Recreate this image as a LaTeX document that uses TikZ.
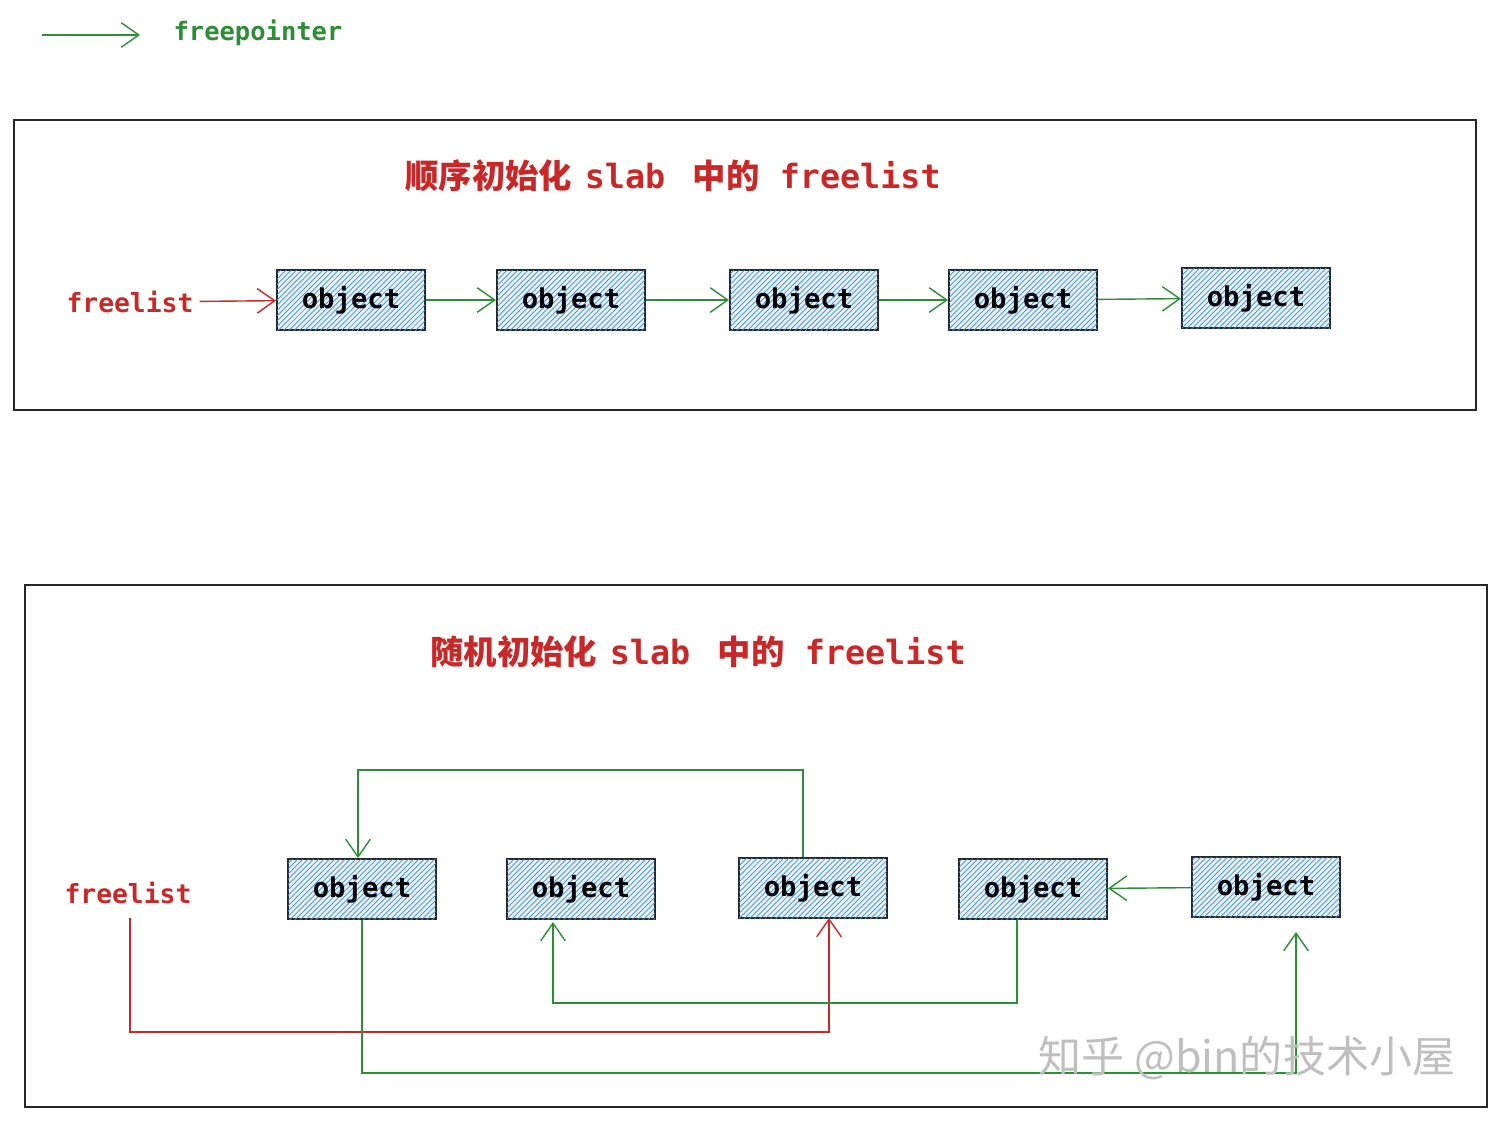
\documentclass[tikz,border=0pt]{standalone}
\usepackage{fontspec}
\setmonofont{DejaVu Sans Mono}
\newfontfamily\cjk{Noto Sans CJK SC}
\usetikzlibrary{patterns,arrows.meta}
\definecolor{gr}{RGB}{47,140,55}
\definecolor{rd}{RGB}{200,40,40}
\definecolor{bl}{RGB}{60,140,220}
\tikzset{
 obj/.style={draw=black!85,line width=1.2pt,minimum width=2.96cm,minimum height=1.2cm,fill=bl!12,postaction={pattern=north east lines,pattern color=bl},font=\ttfamily\bfseries\fontsize{15.5}{16}\selectfont,inner sep=0pt},
 ga/.style={draw=gr,line width=0.8pt,-{Straight Barb[length=10pt,width=14pt]}},
 ra/.style={draw=rd,line width=0.8pt,-{Straight Barb[length=10pt,width=14pt]}},
 frame/.style={draw=black!85,line width=1.1pt},
 ttl/.style={text=rd,font=\bfseries\fontsize{19}{19}\selectfont},
 lbl/.style={text=rd,font=\ttfamily\bfseries\fontsize{15}{15}\selectfont},
}
\begin{document}
\begin{tikzpicture}[x=0.02cm,y=-0.02cm]
\useasboundingbox (0,0) rectangle (1500,1120);
% legend
\coordinate (l1) at (42,35); \coordinate (l2) at (140,35);
\draw[ga] (l1) -- (l2);
\node[text=gr,font=\ttfamily\bfseries\fontsize{14.5}{15}\selectfont] (leg) at (258,33) {freepointer};
% box 1
\draw[frame] (14,120) rectangle (1476,410);
\node[ttl] (t1) at (673,176) {{\cjk 顺序初始化} \ttfamily slab {\cjk\ 中的} \ttfamily freelist};
\node[lbl] (f1) at (130,302) {freelist};
\node[obj] (a1) at (351,300) {object};
\node[obj] (a2) at (571,300) {object};
\node[obj] (a3) at (804,300) {object};
\node[obj] (a4) at (1023,300) {object};
\node[obj] (a5) at (1256,298) {object};
\draw[ra] (f1) -- (a1);
\draw[ga] (a1) -- (a2);
\draw[ga] (a2) -- (a3);
\draw[ga] (a3) -- (a4);
\draw[ga] (a4) -- (a5);
% box 2
\draw[frame] (25,585) rectangle (1487,1107);
\node[ttl] (t2) at (698,652) {{\cjk 随机初始化} \ttfamily slab {\cjk\ 中的} \ttfamily freelist};
\node[lbl] (f2) at (128,893) {freelist};
\draw[ra] (130,918) |- (829,1032) -- (829,918);
\draw[ga] (803,858) -- (803,770) -| (358,858);
\draw[ga] (362,919) |- (1296,1073) -- (1296,932);
\draw[ga] (1017,919) |- (553,1003) -- (553,922);
\node[obj] (b1) at (362,889) {object};
\node[obj] (b2) at (581,889) {object};
\node[obj] (b3) at (813,888) {object};
\node[obj] (b4) at (1033,889) {object};
\node[obj] (b5) at (1266,887) {object};
\draw[ga] (b5) -- (b4);
\node[text=black!25,font=\cjk\fontsize{24.5}{25}\selectfont] (wm) at (1247,1058) {知乎 @bin的技术小屋};
\end{tikzpicture}
\end{document}
